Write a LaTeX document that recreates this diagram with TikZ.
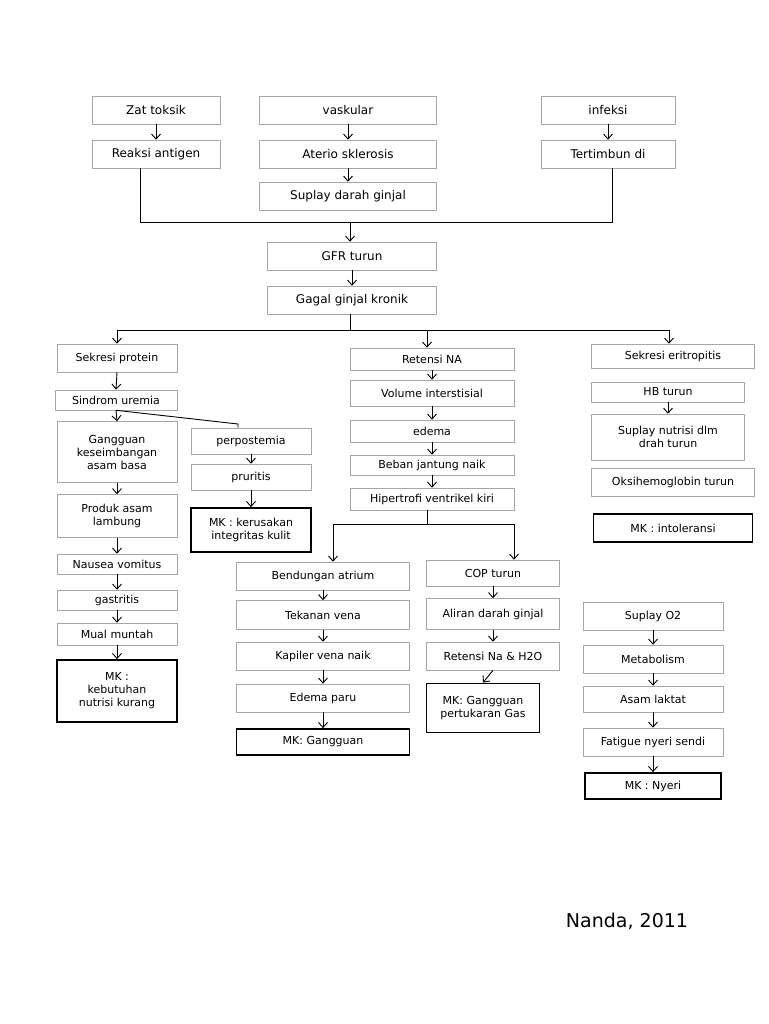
\documentclass[tikz,border=0pt]{standalone}
\usepackage{fontspec}
\setmainfont{DejaVu Sans}
\usetikzlibrary{arrows.meta}

\begin{document}
\begin{tikzpicture}[x=1pt, y=-1pt,
    box/.style={draw=gray!70, line width=0.6pt, align=center, inner sep=1pt,
        font=\fontsize{11}{13}\selectfont},
    mk/.style={box, draw=black, line width=1.8pt},
    arr/.style={-{Straight Barb[length=5pt, width=9pt]}, line width=0.9pt},
    ln/.style={line width=0.9pt}]
    \useasboundingbox (0,0) rectangle (768,1024);
    % top row
    \node[box, minimum width=128, minimum height=28, font=\fontsize{12}{14}\selectfont] (zat)   at (156,110) {Zat toksik};
    \node[box, minimum width=177, minimum height=28, font=\fontsize{12}{14}\selectfont] (vask)  at (348,110) {vaskular};
    \node[box, minimum width=134, minimum height=28, font=\fontsize{12}{14}\selectfont] (inf)   at (608,110) {infeksi};
    \node[box, minimum width=128, minimum height=28, font=\fontsize{12}{14}\selectfont] (reak)  at (156,154) {Reaksi antigen};
    \node[box, minimum width=177, minimum height=28, font=\fontsize{12}{14}\selectfont] (ater)  at (348,154) {Aterio sklerosis};
    \node[box, minimum width=134, minimum height=28, font=\fontsize{12}{14}\selectfont] (tert)  at (608,154) {Tertimbun di};
    \node[box, minimum width=177, minimum height=28, font=\fontsize{12}{14}\selectfont] (supd)  at (348,196) {Suplay darah ginjal};
    \node[box, minimum width=169, minimum height=28, font=\fontsize{12}{14}\selectfont] (gfr)   at (352,256) {GFR turun};
    \node[box, minimum width=169, minimum height=28, font=\fontsize{12}{14}\selectfont] (ggk)   at (352,300) {Gagal ginjal kronik};
    \coordinate (jl) at (140,222);
    \coordinate (jr) at (612,222);
    \coordinate (jm) at (350,222);
    \coordinate (bl) at (117,330);
    \coordinate (bm) at (427,330);
    \coordinate (br) at (669,330);
    \coordinate (bg) at (350,330);
    % left column
    \node[box, minimum width=120, minimum height=28] (sekp) at (117,358) {Sekresi protein};
    \node[box, minimum width=122, minimum height=20] (sind) at (116,400) {Sindrom uremia};
    \node[box, minimum width=120, minimum height=61] (gang) at (117,452) {Gangguan\\keseimbangan\\asam basa};
    \node[box, minimum width=120, minimum height=43] (prod) at (117,516) {Produk asam\\lambung};
    \node[box, minimum width=120, minimum height=20] (naus) at (117,564) {Nausea vomitus};
    \node[box, minimum width=120, minimum height=20] (gast) at (117,600) {gastritis};
    \node[box, minimum width=120, minimum height=22] (mual) at (117,634) {Mual muntah};
    \node[mk, minimum width=120, minimum height=62] (mkn) at (117,691) {MK :\\kebutuhan\\nutrisi kurang};
    \node[box, minimum width=120, minimum height=26] (perp) at (251,441) {perpostemia};
    \node[box, minimum width=120, minimum height=26] (prur) at (251,477) {pruritis};
    \node[mk, minimum width=120, minimum height=44] (mkk) at (251,530) {MK : kerusakan\\integritas kulit};
    \coordinate (pk) at (238,424);
    % middle column
    \node[box, minimum width=164, minimum height=22] (retn) at (432,359) {Retensi NA};
    \node[box, minimum width=164, minimum height=26] (vol)  at (432,393) {Volume interstisial};
    \node[box, minimum width=164, minimum height=22] (edem) at (432,431) {edema};
    \node[box, minimum width=164, minimum height=20] (beb)  at (432,465) {Beban jantung naik};
    \node[box, minimum width=164, minimum height=22] (hip)  at (432,499) {Hipertrofi ventrikel kiri};
    \coordinate (hl) at (333,524);
    \coordinate (hr) at (514,524);
    \coordinate (hm) at (427,524);
    \node[box, minimum width=173, minimum height=28] (bend) at (323,576) {Bendungan atrium};
    \node[box, minimum width=173, minimum height=29] (tek)  at (323,615) {Tekanan vena};
    \node[box, minimum width=173, minimum height=28] (kap)  at (323,656) {Kapiler vena naik};
    \node[box, minimum width=173, minimum height=28] (edp)  at (323,698) {Edema paru};
    \node[mk, minimum width=173, minimum height=26] (mkg)  at (323,742) {MK: Gangguan};
    \node[box, minimum width=133, minimum height=26] (cop)  at (493,573) {COP turun};
    \node[box, minimum width=133, minimum height=31] (alir) at (493,614) {Aliran darah ginjal};
    \node[box, minimum width=133, minimum height=28] (rna)  at (493,656) {Retensi Na \& H2O};
    \node[mk, minimum width=113, minimum height=49] (mkp)  at (483,708) {MK: Gangguan\\pertukaran Gas};
    % right column
    \node[box, minimum width=163, minimum height=24] (sek)  at (673,356) {Sekresi eritropitis};
    \node[box, minimum width=153, minimum height=20] (hb)   at (668,392) {HB turun};
    \node[box, minimum width=153, minimum height=46] (supn) at (668,437) {Suplay nutrisi dlm\\drah turun};
    \node[box, minimum width=163, minimum height=28] (oks)  at (673,482) {Oksihemoglobin turun};
    \node[mk, minimum width=159, minimum height=28] (mki)  at (673,528) {MK : intoleransi};
    \node[box, minimum width=140, minimum height=28] (supo) at (653,616) {Suplay O2};
    \node[box, minimum width=140, minimum height=28] (met)  at (653,659) {Metabolism};
    \node[box, minimum width=140, minimum height=26] (asam) at (653,699) {Asam  laktat};
    \node[box, minimum width=140, minimum height=28] (fat)  at (653,742) {Fatigue nyeri sendi};
    \node[mk, minimum width=136, minimum height=26] (mkny) at (653,786) {MK : Nyeri};
    \node[font=\fontsize{19}{22}\selectfont] (src) at (627,921) {Nanda, 2011};

    % connectors
    \foreach \a/\b in {zat/reak, vask/ater, inf/tert, ater/supd, gfr/ggk,
        sekp/sind, sind/gang, gang/prod, prod/naus, naus/gast, gast/mual, mual/mkn,
        perp/prur, prur/mkk,
        retn/vol, vol/edem, edem/beb, beb/hip,
        bend/tek, tek/kap, kap/edp, edp/mkg,
        cop/alir, alir/rna, rna/mkp,
        hb/supn, supo/met, met/asam, asam/fat, fat/mkny}
        \draw[arr] (\a.south) -- (\b.north);
    \draw[ln] (reak.south -| jl) -- (jl) -- (jr) -- (tert.south -| jr);
    \draw[arr] (jm) -- (jm |- gfr.north);
    \draw[ln] (ggk.south -| bg) -- (bg);
    \draw[ln] (bl) -- (br);
    \draw[arr] (bl) -- (sekp.north -| bl);
    \draw[arr] (bm) -- (retn.north -| bm);
    \draw[arr] (br) -- (sek.north -| br);
    \draw[ln] (sind.south) -- (pk) -- (perp.north -| pk);
    \draw[ln] (hip.south -| hm) -- (hm);
    \draw[ln] (hl) -- (hr);
    \draw[arr] (hl) -- (bend.north -| hl);
    \draw[arr] (hr) -- (cop.north -| hr);
\end{tikzpicture}
\end{document}
